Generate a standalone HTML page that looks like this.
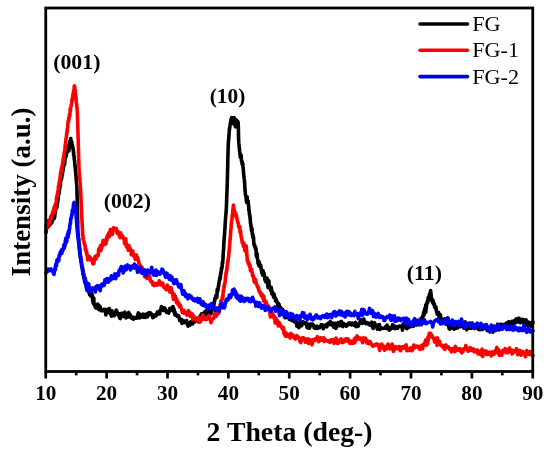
<!DOCTYPE html>
<html><head><meta charset="utf-8"><title>XRD</title>
<style>
html,body{margin:0;padding:0;background:#fff;}
body{width:550px;height:452px;overflow:hidden;}
svg{display:block;}
text{font-family:"Liberation Serif",serif;fill:#000;}
.b{font-weight:bold;}
</style></head><body>
<svg width="550" height="452" viewBox="0 0 550 452">
<rect x="0" y="0" width="550" height="452" fill="#fff"/>
<g fill="none" stroke-linejoin="round" stroke-linecap="round" stroke-width="3.6">
<polyline stroke="#000" points="46.0,232.6 46.4,227.6 46.9,226.2 47.3,223.9 47.8,226.2 48.2,220.7 48.6,226.3 49.1,222.1 49.5,223.4 49.9,222.3 50.3,224.5 50.6,218.5 51.0,220.8 51.3,220.5 51.7,223.0 52.0,219.7 52.4,220.9 52.7,218.7 53.0,219.0 53.4,218.9 53.7,215.8 54.1,218.8 54.4,217.9 54.6,216.7 54.8,216.5 54.9,214.2 55.1,213.7 55.2,211.7 55.3,211.2 55.5,211.4 55.6,209.4 55.8,209.0 55.9,208.0 56.1,207.0 56.2,206.5 56.4,206.8 56.5,205.3 56.7,206.5 56.8,207.8 57.0,206.3 57.1,204.8 57.3,203.4 57.4,202.5 57.5,203.9 57.7,201.3 57.8,199.8 57.9,199.6 58.0,200.4 58.1,198.0 58.2,197.8 58.3,196.8 58.4,195.5 58.6,194.0 58.7,193.9 58.8,193.5 58.9,193.9 59.0,193.8 59.1,193.2 59.2,191.5 59.3,191.0 59.5,188.7 59.6,190.0 59.7,188.8 59.8,187.4 59.9,187.3 60.0,185.9 60.1,186.1 60.3,185.6 60.4,185.4 60.5,181.0 60.7,180.1 60.8,180.2 60.9,180.0 61.0,180.4 61.2,179.5 61.3,176.9 61.4,178.2 61.6,178.9 61.7,177.9 61.8,177.8 61.9,175.9 62.1,175.2 62.2,174.8 62.3,174.4 62.5,173.5 62.6,172.6 62.7,171.0 62.9,171.1 63.0,170.0 63.1,170.4 63.2,169.8 63.4,168.1 63.5,166.8 63.6,165.9 63.8,166.2 63.9,165.5 64.0,164.7 64.2,164.7 64.3,163.7 64.4,164.8 64.5,163.4 64.7,164.2 64.8,162.1 64.9,161.1 65.1,158.0 65.2,158.5 65.4,158.2 65.6,155.4 65.8,156.5 65.9,157.0 66.1,154.8 66.3,155.7 66.4,155.0 66.6,151.5 66.8,153.0 66.9,150.6 67.1,152.0 67.3,149.0 67.5,151.6 67.6,149.6 67.8,148.5 68.0,147.0 68.1,149.2 68.3,150.3 68.5,145.5 68.7,150.9 69.0,150.3 69.3,146.1 69.6,141.6 69.9,143.4 70.2,141.2 70.5,140.0 70.8,138.5 71.0,141.3 71.2,142.6 71.4,141.5 71.6,143.6 71.8,141.9 71.9,145.1 72.1,144.6 72.3,144.8 72.5,145.5 72.7,147.4 72.8,147.8 73.0,148.1 73.1,148.7 73.2,149.6 73.3,150.8 73.3,151.4 73.4,152.4 73.5,152.6 73.6,151.8 73.7,154.4 73.7,155.5 73.8,154.9 73.9,155.2 74.0,155.9 74.1,156.7 74.2,157.9 74.2,158.3 74.3,159.7 74.4,159.6 74.5,160.6 74.6,160.5 74.7,162.0 74.7,162.6 74.8,164.4 74.9,164.6 75.0,166.3 75.0,164.7 75.1,165.9 75.2,167.2 75.2,168.5 75.3,167.9 75.4,169.0 75.4,169.8 75.5,171.2 75.5,170.9 75.6,171.9 75.7,171.9 75.7,172.2 75.8,173.6 75.8,174.4 75.9,175.5 76.0,175.5 76.0,175.9 76.1,177.4 76.1,178.2 76.2,179.2 76.3,179.6 76.3,180.7 76.4,180.9 76.5,182.5 76.5,183.0 76.6,183.6 76.6,183.1 76.7,184.7 76.8,185.1 76.8,185.9 76.8,186.9 76.9,187.1 76.9,188.5 76.9,188.6 76.9,190.6 76.9,189.8 77.0,190.1 77.0,190.7 77.0,191.6 77.0,192.1 77.0,194.1 77.1,193.6 77.1,193.9 77.1,195.9 77.1,195.9 77.1,196.4 77.2,198.3 77.2,199.1 77.2,199.3 77.2,200.8 77.3,200.8 77.3,202.1 77.3,202.2 77.3,203.2 77.3,203.1 77.3,203.0 77.3,205.3 77.4,204.6 77.4,205.7 77.4,206.5 77.4,207.7 77.4,208.7 77.4,209.4 77.4,210.5 77.4,211.7 77.5,211.5 77.5,211.7 77.5,212.3 77.5,213.1 77.5,213.2 77.5,215.0 77.5,215.0 77.5,215.7 77.6,216.5 77.6,216.5 77.6,217.3 77.6,218.7 77.6,219.4 77.6,219.7 77.6,221.4 77.6,220.5 77.7,221.5 77.7,222.3 77.7,222.3 77.7,225.6 77.7,225.9 77.7,225.7 77.7,227.6 77.7,227.4 77.8,228.3 77.8,228.7 77.8,230.0 77.8,229.8 77.9,231.3 77.9,231.1 78.0,231.9 78.1,233.0 78.1,233.0 78.2,233.8 78.3,235.0 78.3,235.6 78.4,237.2 78.5,237.9 78.6,237.9 78.6,238.4 78.7,238.2 78.8,239.0 78.8,239.5 78.9,241.9 79.0,242.0 79.0,243.9 79.1,243.4 79.2,244.2 79.3,245.2 79.3,245.9 79.4,245.7 79.5,246.0 79.5,246.7 79.6,247.8 79.7,248.0 79.7,249.4 79.8,249.8 79.9,250.4 80.0,251.5 80.0,251.7 80.1,253.0 80.2,253.7 80.2,255.0 80.3,256.3 80.4,255.9 80.5,257.4 80.6,258.9 80.7,256.2 80.8,257.9 81.0,258.9 81.1,260.5 81.2,262.4 81.3,261.2 81.4,260.8 81.5,263.1 81.6,263.4 81.7,266.2 81.8,265.9 81.9,266.9 82.1,265.2 82.2,268.9 82.3,267.7 82.4,268.4 82.5,268.6 82.6,268.8 82.7,269.6 82.8,270.9 82.9,270.6 83.1,271.8 83.2,270.8 83.4,274.2 83.5,276.2 83.7,275.5 83.9,277.8 84.0,275.9 84.2,277.5 84.3,277.8 84.5,279.8 84.7,278.4 84.8,279.8 85.0,281.8 85.1,279.4 85.3,278.4 85.5,279.6 85.6,280.0 85.8,280.7 86.0,284.0 86.3,287.2 86.5,285.1 86.8,286.8 87.0,286.6 87.3,287.5 87.5,288.2 87.8,289.2 88.0,291.0 88.3,288.5 88.5,291.9 88.9,291.8 89.2,291.7 89.6,294.8 89.9,294.1 90.2,294.7 90.6,295.9 90.9,295.5 91.2,294.7 91.6,293.9 91.9,293.6 92.2,297.2 92.4,295.1 92.7,301.1 93.0,301.5 93.2,303.1 93.5,302.8 93.8,298.1 94.0,304.4 94.3,305.1 94.6,305.4 94.8,304.7 95.1,306.7 95.4,304.8 95.8,308.0 96.3,305.8 96.8,307.9 97.3,304.4 97.8,304.1 98.4,309.0 98.9,309.6 99.4,308.5 99.9,306.2 100.6,308.4 101.2,310.7 101.9,310.2 102.6,310.6 103.2,310.6 103.9,309.5 104.5,310.4 105.2,309.5 105.9,314.9 106.6,311.5 107.3,312.4 107.9,309.4 108.6,311.8 109.3,308.5 110.0,313.6 110.7,312.9 111.4,316.2 112.1,310.8 112.8,312.9 113.5,313.8 114.2,315.7 114.8,313.7 115.5,314.1 116.2,310.0 116.9,311.3 117.5,313.4 118.2,315.1 118.9,313.6 119.6,318.0 120.3,318.5 120.9,316.6 121.6,313.3 122.3,313.4 123.0,314.1 123.6,316.5 124.2,315.5 124.8,312.1 125.3,315.2 125.9,317.9 126.4,314.6 127.0,313.8 127.6,317.3 128.1,313.5 128.7,312.5 129.3,314.4 129.8,314.7 130.4,314.8 131.0,317.8 131.6,318.1 132.1,318.1 132.7,317.2 133.4,319.2 134.1,317.6 134.8,318.1 135.5,318.3 136.2,317.2 136.9,318.1 137.6,316.1 138.3,312.9 139.0,313.8 139.7,318.0 140.4,315.7 141.1,317.1 141.8,314.5 142.5,316.9 143.2,314.2 143.9,317.3 144.6,314.5 145.3,317.4 146.0,316.6 146.7,314.2 147.4,316.8 148.1,313.3 148.8,312.8 149.5,314.7 150.2,312.7 150.9,313.8 151.6,314.9 152.2,314.4 152.8,317.8 153.5,317.4 154.1,316.3 154.7,315.1 155.4,314.9 156.0,316.0 156.6,314.4 157.3,312.2 157.9,314.0 158.5,312.1 159.1,311.4 159.7,314.0 160.3,310.0 160.9,309.4 161.4,306.6 162.0,307.3 162.6,310.1 163.2,308.3 163.9,310.3 164.5,307.9 165.2,308.5 165.9,310.9 166.5,312.3 167.2,311.2 167.8,312.6 168.5,313.1 169.2,311.8 169.8,308.4 170.5,309.3 171.1,310.0 171.8,307.9 172.5,309.3 172.9,306.5 173.3,308.1 173.7,311.6 174.0,308.9 174.4,312.3 174.8,314.6 175.1,312.2 175.5,315.2 175.9,314.1 176.2,315.1 176.7,315.4 177.2,316.2 177.8,315.4 178.3,316.7 178.8,316.0 179.3,318.4 179.8,320.7 180.4,319.0 180.9,320.2 181.4,319.4 181.9,323.4 182.6,320.9 183.3,320.6 183.9,322.4 184.6,321.5 185.3,322.6 186.0,322.9 186.6,320.5 187.3,322.6 188.0,326.2 188.7,325.3 189.3,324.7 190.0,325.1 190.6,321.7 191.3,323.1 191.9,323.8 192.6,323.9 193.2,320.2 193.9,321.1 194.6,322.1 195.2,320.4 195.9,319.6 196.6,320.7 197.3,319.7 198.0,318.0 198.7,321.9 199.4,319.7 200.1,318.2 200.5,315.5 201.0,319.0 201.5,313.7 202.0,314.2 202.5,315.8 203.0,317.5 203.5,316.9 203.9,312.7 204.4,314.1 204.9,311.9 205.4,315.4 205.9,310.9 206.4,312.4 206.8,313.6 207.3,311.3 207.7,313.5 208.1,309.4 208.5,310.9 209.0,311.3 209.4,309.3 209.8,311.3 210.2,309.6 210.6,305.9 211.0,313.9 211.5,308.0 211.9,306.5 212.3,303.6 212.7,305.4 213.0,303.9 213.2,305.3 213.5,304.7 213.8,306.9 214.0,303.5 214.3,302.7 214.6,301.2 214.8,299.1 215.1,298.0 215.4,298.9 215.6,297.6 215.9,295.6 216.2,295.1 216.4,296.9 216.6,297.5 216.7,295.7 216.8,297.2 217.0,293.4 217.1,293.3 217.2,289.3 217.4,290.8 217.5,290.5 217.7,290.9 217.8,291.3 217.9,288.4 218.1,288.9 218.2,287.3 218.3,287.2 218.5,285.1 218.6,286.6 218.8,283.4 218.9,284.5 219.0,282.3 219.2,282.0 219.3,280.3 219.4,280.5 219.6,280.5 219.7,279.1 219.9,276.9 220.0,279.6 220.1,278.3 220.2,278.6 220.3,277.5 220.5,275.2 220.6,273.0 220.7,273.3 220.8,274.7 220.9,272.1 221.0,273.1 221.2,271.0 221.3,271.1 221.4,268.4 221.5,270.5 221.6,268.9 221.7,269.1 221.9,267.8 222.0,267.6 222.1,266.1 222.2,265.9 222.3,262.9 222.4,262.4 222.6,263.6 222.7,262.4 222.7,261.6 222.8,261.1 222.8,260.9 222.9,259.8 222.9,259.6 223.0,258.3 223.0,257.8 223.1,257.6 223.1,256.8 223.1,255.0 223.2,255.2 223.2,253.7 223.3,253.9 223.3,251.9 223.4,251.3 223.4,250.5 223.5,249.8 223.5,250.2 223.6,249.5 223.6,249.4 223.7,248.4 223.7,246.8 223.7,246.0 223.8,245.7 223.8,244.3 223.9,243.3 223.9,242.2 224.0,242.3 224.0,240.6 224.1,241.1 224.1,240.2 224.2,240.4 224.2,239.1 224.2,238.3 224.3,238.2 224.3,236.4 224.4,236.6 224.4,235.2 224.5,235.6 224.5,235.0 224.6,234.4 224.6,232.8 224.7,232.3 224.7,231.4 224.8,230.3 224.8,229.9 224.9,229.6 224.9,229.1 225.0,227.7 225.0,226.8 225.1,227.7 225.1,226.7 225.1,224.4 225.2,224.4 225.2,223.8 225.3,223.2 225.3,222.2 225.4,221.1 225.4,220.7 225.5,219.8 225.5,219.4 225.6,218.4 225.6,217.7 225.7,217.5 225.7,217.0 225.8,215.2 225.8,215.0 225.9,214.2 225.9,214.6 226.0,213.4 226.0,213.5 226.1,212.0 226.1,211.6 226.2,210.3 226.2,210.8 226.3,209.4 226.3,208.0 226.4,207.5 226.4,205.7 226.4,206.0 226.5,205.5 226.5,204.9 226.5,204.7 226.5,203.1 226.6,202.8 226.6,201.9 226.6,201.2 226.6,199.8 226.7,200.7 226.7,199.0 226.7,198.2 226.7,196.7 226.8,196.7 226.8,196.0 226.8,195.2 226.8,194.6 226.9,194.5 226.9,193.8 226.9,193.1 226.9,193.7 227.0,191.3 227.0,190.7 227.0,189.6 227.0,189.5 227.1,188.3 227.1,186.7 227.1,186.7 227.1,186.7 227.2,186.4 227.2,184.5 227.2,184.2 227.2,183.8 227.3,182.8 227.3,182.7 227.3,181.6 227.3,180.9 227.3,179.6 227.4,180.0 227.4,178.7 227.4,178.7 227.4,177.3 227.4,177.1 227.4,176.0 227.5,175.1 227.5,174.5 227.5,174.1 227.5,173.4 227.5,173.6 227.5,171.7 227.6,171.0 227.6,171.4 227.6,170.0 227.6,168.0 227.6,168.6 227.7,168.0 227.7,166.3 227.7,166.5 227.7,166.0 227.7,165.7 227.7,165.0 227.8,163.7 227.8,163.2 227.8,162.0 227.8,161.0 227.8,160.3 227.8,160.3 227.9,158.5 227.9,159.0 227.9,157.5 227.9,157.2 227.9,156.9 227.9,156.5 228.0,154.3 228.0,154.2 228.0,153.9 228.0,153.0 228.0,153.1 228.1,151.1 228.1,151.4 228.1,150.7 228.1,149.7 228.1,149.5 228.1,147.8 228.2,148.2 228.2,146.6 228.2,146.5 228.2,145.3 228.3,144.9 228.3,144.1 228.4,142.2 228.4,142.2 228.5,141.7 228.5,141.1 228.6,140.1 228.6,140.6 228.7,139.0 228.7,138.9 228.8,137.2 228.9,136.2 228.9,136.0 229.0,135.0 229.0,135.6 229.1,133.9 229.1,133.7 229.2,132.5 229.2,131.8 229.3,131.2 229.3,130.6 229.4,130.1 229.4,129.2 229.5,128.5 229.5,128.0 229.6,128.0 229.7,128.2 229.8,127.4 230.0,125.9 230.1,124.2 230.2,123.8 230.4,123.5 230.5,122.4 230.6,122.1 230.7,121.3 230.9,121.8 231.0,119.9 231.1,119.8 231.3,119.0 231.4,118.3 231.5,118.2 231.6,117.6 231.8,118.7 231.9,117.8 232.0,120.3 232.1,122.4 232.3,119.9 232.4,120.1 232.5,121.4 232.6,123.0 232.8,122.9 232.9,122.2 233.0,122.6 233.2,123.0 233.3,122.1 233.5,123.7 233.6,121.7 233.8,120.6 233.9,120.5 234.1,118.9 234.2,117.6 234.3,119.3 234.4,120.1 234.5,119.4 234.6,120.9 234.7,121.7 234.8,122.8 234.9,122.9 235.0,124.0 235.1,124.6 235.2,126.3 235.3,124.3 235.5,126.9 235.6,125.8 235.8,123.5 235.9,123.2 236.0,122.2 236.2,119.8 236.3,120.1 236.4,120.4 236.6,120.2 236.9,122.2 237.1,121.3 237.3,121.9 237.6,121.1 237.8,122.0 238.1,122.1 238.3,125.6 238.3,125.6 238.3,126.1 238.3,127.8 238.4,128.0 238.4,127.2 238.4,129.4 238.4,129.1 238.4,130.8 238.4,130.7 238.4,131.3 238.5,133.0 238.5,132.9 238.5,134.1 238.5,135.0 238.5,135.8 238.5,136.6 238.5,137.0 238.6,137.4 238.6,139.4 238.6,138.7 238.6,140.2 238.6,139.7 238.7,141.2 238.8,141.9 238.8,141.5 238.9,143.2 239.0,144.3 239.0,145.1 239.1,145.5 239.2,146.6 239.2,147.0 239.3,147.2 239.4,148.8 239.4,148.6 239.5,150.2 239.6,150.5 239.6,150.5 239.7,151.5 239.8,152.0 239.9,152.3 239.9,153.6 240.0,153.6 240.2,157.1 240.4,156.9 240.6,154.7 240.8,156.4 241.0,156.6 241.2,155.4 241.4,160.1 241.6,161.0 241.8,162.0 241.9,160.8 242.1,164.2 242.3,162.1 242.5,163.5 242.7,164.2 242.8,163.9 242.9,164.1 242.9,165.7 243.0,166.9 243.1,167.8 243.1,167.1 243.2,168.2 243.3,169.2 243.3,170.0 243.4,171.0 243.5,171.0 243.5,172.2 243.6,173.8 243.7,174.1 243.7,174.7 243.8,175.6 243.9,175.9 243.9,176.9 244.0,177.2 244.1,177.1 244.1,177.4 244.2,178.5 244.3,179.1 244.4,179.8 244.4,181.1 244.5,181.3 244.5,182.5 244.6,183.1 244.6,183.4 244.7,183.4 244.7,185.9 244.8,186.1 244.8,185.5 244.9,187.4 244.9,188.5 245.0,189.0 245.0,190.1 245.1,190.1 245.1,191.1 245.2,191.5 245.2,191.9 245.3,192.6 245.3,193.5 245.4,194.6 245.4,194.6 245.5,194.7 245.7,195.4 245.9,196.2 246.2,198.5 246.4,200.6 246.6,202.2 246.9,200.0 247.1,196.7 247.3,200.5 247.6,202.0 247.8,202.0 248.0,202.8 248.2,201.0 248.3,204.7 248.4,204.8 248.5,204.6 248.6,205.6 248.7,206.2 248.8,208.1 248.9,209.0 248.9,210.6 249.0,210.7 249.1,210.0 249.2,210.7 249.3,213.2 249.4,214.3 249.5,213.8 249.6,215.0 249.7,214.1 249.7,214.3 249.8,215.4 249.9,216.6 250.0,217.2 250.1,218.1 250.2,218.6 250.3,220.0 250.4,221.3 250.4,221.3 250.5,223.7 250.6,222.9 250.7,223.6 250.8,224.8 250.9,225.0 251.0,226.7 251.1,225.7 251.2,228.0 251.3,227.7 251.5,230.8 251.6,228.8 251.7,229.6 251.8,230.3 252.0,228.5 252.1,232.1 252.2,233.3 252.3,234.2 252.5,233.4 252.6,233.5 252.7,235.6 252.8,236.4 253.0,237.6 253.1,235.9 253.2,236.5 253.3,237.9 253.5,237.0 253.6,239.0 253.7,241.7 253.9,243.8 254.0,243.6 254.1,245.5 254.3,244.4 254.4,244.4 254.6,244.8 254.7,246.1 254.9,246.6 255.0,247.3 255.1,247.1 255.3,248.4 255.4,248.6 255.6,247.3 255.7,249.1 255.9,249.1 256.0,248.9 256.2,253.0 256.3,255.2 256.4,256.4 256.6,255.8 256.7,253.4 256.9,256.2 257.0,256.7 257.2,253.7 257.3,257.8 257.4,258.4 257.6,258.9 257.7,259.9 257.9,260.7 258.0,263.4 258.2,262.2 258.4,263.6 258.7,265.0 259.0,265.6 259.2,261.9 259.5,266.3 259.8,264.3 260.1,265.2 260.3,264.9 260.6,265.1 260.9,266.6 261.2,269.1 261.5,270.8 261.7,272.8 262.0,271.9 262.3,271.6 262.6,275.2 262.8,270.5 263.1,270.7 263.4,274.3 263.7,274.4 264.0,273.0 264.3,276.0 264.6,276.2 264.9,279.8 265.2,278.0 265.5,281.6 265.9,281.8 266.2,281.3 266.5,281.5 266.8,282.0 267.1,278.1 267.4,283.3 267.7,283.3 268.0,287.6 268.3,283.8 268.6,286.6 268.9,280.9 269.2,286.7 269.5,286.5 269.8,286.3 270.1,287.5 270.4,288.3 270.6,290.3 270.9,289.7 271.2,287.2 271.5,289.7 271.8,293.9 272.0,291.1 272.3,292.0 272.6,292.0 272.9,294.4 273.2,295.9 273.5,295.9 273.7,297.2 274.0,294.0 274.3,295.3 274.6,297.7 274.9,297.9 275.2,297.7 275.5,300.9 275.9,299.0 276.2,300.3 276.5,300.3 276.8,302.0 277.1,302.1 277.4,302.4 277.7,304.4 278.0,306.4 278.4,303.4 278.7,305.2 279.0,304.2 279.3,305.7 279.6,308.4 279.9,307.9 280.3,307.3 280.8,307.8 281.2,308.3 281.7,309.8 282.1,311.9 282.5,309.3 283.0,310.6 283.4,311.5 283.9,311.0 284.3,316.4 284.8,314.6 285.2,317.8 285.6,312.9 286.1,317.5 286.5,314.8 287.0,315.7 287.4,315.7 288.1,316.6 288.7,316.8 289.3,319.4 289.9,317.0 290.6,318.6 291.2,319.1 291.8,320.4 292.4,319.7 293.0,320.4 293.7,321.3 294.3,321.1 294.9,322.2 295.5,320.7 296.2,321.5 296.8,326.1 297.5,324.0 298.2,323.7 298.9,327.7 299.6,325.3 300.3,324.4 301.0,323.1 301.7,325.7 302.4,321.9 303.0,321.8 303.7,323.4 304.4,322.8 305.1,322.5 305.8,322.7 306.5,325.4 307.2,327.7 307.9,323.9 308.6,325.8 309.3,328.2 310.0,326.9 310.7,324.0 311.4,324.2 312.1,324.0 312.8,324.4 313.5,325.7 314.2,327.9 314.9,326.3 315.6,328.3 316.3,326.8 317.0,326.2 317.7,328.4 318.4,327.7 319.1,327.1 319.8,327.6 320.5,326.1 321.2,324.7 321.9,326.1 322.6,324.9 323.3,328.8 324.0,325.9 324.7,325.9 325.4,326.2 326.1,324.6 326.8,326.9 327.5,325.0 328.2,323.2 328.9,323.2 329.6,324.5 330.3,321.4 331.0,324.4 331.7,323.1 332.4,325.4 333.1,323.2 333.8,327.3 334.5,326.0 335.2,323.3 335.9,328.5 336.6,325.1 337.3,323.8 338.0,322.7 338.7,324.7 339.4,325.8 340.1,322.2 340.8,321.5 341.5,321.6 342.2,326.0 342.9,326.5 343.6,323.6 344.3,325.2 345.0,324.5 345.7,324.5 346.4,326.2 347.1,325.5 347.8,324.7 348.5,323.2 349.2,324.3 349.9,323.0 350.6,324.1 351.3,324.9 352.0,323.0 352.7,324.6 353.4,324.8 354.1,325.3 354.8,323.0 355.5,322.5 356.2,326.6 356.8,325.7 357.5,325.1 358.2,326.3 358.9,323.8 359.6,322.7 360.3,323.3 361.0,319.5 361.7,320.6 362.4,323.3 363.1,321.6 363.8,319.0 364.5,321.4 365.2,323.1 365.9,323.7 366.5,323.8 367.2,322.6 367.9,323.9 368.5,324.3 369.2,323.3 369.9,325.2 370.6,325.1 371.2,325.5 371.9,322.2 372.6,327.3 373.2,328.4 373.9,324.8 374.6,322.8 375.3,326.2 375.9,325.3 376.6,325.2 377.3,329.2 378.0,324.9 378.7,327.9 379.4,324.6 380.1,329.4 380.8,328.5 381.5,327.8 382.2,328.1 382.9,328.4 383.6,328.3 384.3,328.3 385.0,328.0 385.7,326.5 386.4,328.3 387.1,325.0 387.8,328.5 388.5,328.6 389.2,330.1 389.9,327.7 390.6,328.9 391.3,328.7 392.0,326.6 392.7,324.6 393.4,326.4 394.1,326.7 394.8,328.7 395.5,326.3 396.2,328.0 396.9,328.1 397.6,328.3 398.3,326.5 399.0,326.3 399.7,326.1 400.4,326.5 401.1,326.7 401.8,325.8 402.5,330.1 403.2,323.8 403.9,323.5 404.6,324.9 405.3,325.9 406.0,327.2 406.6,328.7 407.3,328.5 408.0,325.9 408.7,322.2 409.4,327.2 410.1,324.9 410.8,325.8 411.5,324.4 412.1,326.4 412.8,324.4 413.5,326.2 414.2,325.4 414.9,323.9 415.6,324.0 416.3,324.8 416.9,322.9 417.4,324.7 417.9,323.1 418.4,323.4 418.9,324.1 419.4,324.8 419.9,323.2 420.4,321.8 420.9,322.2 421.2,318.0 421.5,322.6 421.8,317.7 422.1,320.6 422.4,317.1 422.6,317.6 422.9,315.6 423.1,316.5 423.3,315.0 423.5,313.1 423.7,315.8 423.9,312.8 424.1,311.4 424.3,310.3 424.5,313.6 424.7,308.8 424.9,310.0 425.1,307.8 425.3,312.1 425.5,308.6 425.7,304.7 425.9,312.3 426.1,305.5 426.3,308.0 426.5,305.9 426.7,304.7 426.9,302.6 427.1,302.4 427.3,303.2 427.5,300.8 427.7,301.4 427.9,302.1 428.0,299.6 428.2,297.5 428.4,299.1 428.7,297.2 429.0,296.5 429.3,295.6 429.6,294.1 429.9,295.5 430.2,294.8 430.6,290.5 431.0,294.0 431.4,297.5 431.7,300.7 431.9,301.0 432.1,299.8 432.3,301.3 432.5,299.5 432.7,302.6 432.9,300.2 433.1,300.8 433.3,301.7 433.5,304.3 433.7,303.6 433.9,304.3 434.2,305.0 434.4,303.8 434.7,307.3 434.9,306.3 435.2,307.9 435.5,306.8 435.8,309.1 436.0,307.0 436.3,310.4 436.6,312.0 436.8,311.8 437.1,314.1 437.4,311.9 437.7,312.8 438.1,313.7 438.6,312.4 439.1,317.8 439.5,316.6 440.0,315.3 440.5,315.0 440.9,318.4 441.4,320.0 441.9,320.0 442.3,320.1 442.8,319.5 443.3,319.8 443.8,322.3 444.3,322.9 444.8,318.8 445.3,322.1 445.8,320.8 446.2,321.3 446.7,324.4 447.2,321.8 447.7,317.9 448.2,324.2 448.7,326.6 449.3,329.0 450.0,325.8 450.6,328.8 451.3,322.7 452.0,325.2 452.7,327.7 453.4,327.7 454.1,329.1 454.8,328.1 455.5,326.1 456.2,328.2 456.9,326.6 457.6,327.9 458.3,323.8 459.0,325.6 459.7,324.6 460.4,326.7 461.1,325.3 461.8,325.6 462.5,324.2 463.2,326.9 463.9,328.1 464.5,327.9 465.2,321.7 465.9,324.0 466.6,329.8 467.3,326.4 468.0,326.4 468.7,328.4 469.3,326.8 470.0,325.2 470.7,325.4 471.4,328.3 472.1,323.0 472.7,327.1 473.4,324.5 474.0,324.9 474.7,328.6 475.3,325.1 476.0,327.5 476.6,325.7 477.2,324.2 477.9,326.6 478.5,329.4 479.2,328.1 479.8,329.7 480.5,329.2 481.1,329.1 481.8,328.5 482.4,329.5 483.1,326.2 483.8,328.4 484.5,325.8 485.2,328.5 485.9,328.2 486.6,327.2 487.3,330.6 488.0,330.8 488.7,329.8 489.4,327.8 490.1,328.1 490.8,329.7 491.5,328.1 492.2,328.8 492.9,332.2 493.6,326.7 494.3,326.1 495.0,326.7 495.6,328.6 496.3,327.4 497.0,327.4 497.6,327.1 498.3,329.8 499.0,329.9 499.6,328.6 500.3,324.4 501.0,326.2 501.7,324.5 502.3,325.3 503.0,324.7 503.7,326.3 504.3,327.2 505.0,326.5 505.7,324.2 506.3,323.1 506.9,323.6 507.5,322.8 508.1,324.4 508.6,321.8 509.2,321.8 509.8,322.1 510.4,324.2 511.0,325.0 511.5,322.7 512.1,321.3 512.7,323.4 513.4,322.1 514.0,320.9 514.7,323.2 515.4,321.8 516.0,319.1 516.7,322.2 517.3,321.9 518.0,318.6 518.7,318.2 519.3,321.8 520.0,322.7 520.7,322.6 521.4,319.2 522.0,320.6 522.7,322.2 523.4,319.5 524.0,323.0 524.7,324.3 525.4,325.6 526.1,319.8 526.7,323.4 527.4,326.0 528.1,321.9 528.7,322.5 529.3,324.7 530.0,322.7 530.6,326.2 531.2,325.8 531.8,322.3 532.4,324.6 533.0,322.0"/>
<polyline stroke="#f00" points="46.0,225.8 46.4,226.2 46.7,222.7 47.1,228.4 47.4,222.5 47.8,223.4 48.2,224.9 48.5,221.7 48.9,221.4 49.3,221.1 49.6,222.4 50.0,223.7 50.3,218.9 50.7,216.2 51.0,218.5 51.3,216.4 51.5,216.9 51.7,218.2 51.9,214.6 52.1,215.2 52.4,213.2 52.6,213.6 52.8,213.6 53.0,210.9 53.3,211.2 53.5,210.7 53.7,209.6 53.9,208.2 54.1,207.4 54.4,209.1 54.6,208.7 54.8,212.4 55.0,204.7 55.2,208.2 55.5,207.7 55.6,207.4 55.7,205.6 55.8,203.6 56.0,203.5 56.1,203.2 56.2,201.6 56.3,201.6 56.4,197.7 56.5,199.4 56.7,197.8 56.8,196.0 56.9,196.8 57.0,196.2 57.1,194.9 57.3,195.3 57.4,195.7 57.5,193.6 57.6,192.6 57.7,191.8 57.8,191.8 58.0,192.3 58.1,190.3 58.2,190.7 58.3,189.3 58.4,186.4 58.5,186.8 58.7,186.6 58.8,186.2 58.9,185.9 59.0,182.9 59.1,184.0 59.2,182.6 59.4,181.4 59.5,182.6 59.6,182.2 59.7,179.9 59.8,180.2 59.9,178.1 60.1,177.9 60.2,176.4 60.3,178.4 60.4,173.9 60.5,175.4 60.6,175.3 60.7,172.1 60.9,173.0 61.0,172.3 61.1,172.3 61.2,171.9 61.3,169.6 61.4,168.2 61.6,170.5 61.7,170.2 61.8,168.4 61.9,168.0 62.0,166.9 62.1,166.0 62.2,165.3 62.4,166.1 62.5,163.0 62.6,164.6 62.7,163.2 62.8,161.8 62.9,162.4 63.1,158.7 63.2,161.2 63.3,159.8 63.4,157.7 63.5,158.3 63.6,156.9 63.7,158.8 63.9,157.4 64.0,155.4 64.1,153.4 64.2,152.6 64.3,152.1 64.4,152.1 64.5,151.8 64.6,151.9 64.7,151.1 64.8,150.0 64.9,148.9 65.0,148.1 65.1,149.7 65.1,146.3 65.2,145.5 65.3,145.2 65.4,143.5 65.5,143.4 65.6,143.2 65.7,143.0 65.8,142.1 65.8,140.2 65.9,140.9 66.0,138.3 66.1,138.9 66.2,138.1 66.3,137.1 66.4,137.4 66.4,136.0 66.5,136.0 66.6,133.9 66.7,135.0 66.8,134.2 66.9,133.2 67.0,131.4 67.1,131.4 67.1,129.9 67.2,129.0 67.3,132.0 67.4,129.8 67.5,129.7 67.6,127.6 67.7,127.5 67.8,126.5 67.8,125.4 67.9,124.1 68.0,123.2 68.1,120.8 68.2,122.6 68.4,121.6 68.5,121.5 68.6,119.6 68.7,121.1 68.8,118.8 68.9,117.7 69.1,118.8 69.2,116.6 69.3,115.1 69.4,115.5 69.5,115.3 69.6,114.1 69.7,113.5 69.9,115.8 70.0,112.0 70.1,112.2 70.2,108.5 70.3,110.4 70.5,110.3 70.6,108.4 70.7,107.1 70.8,107.6 71.0,106.3 71.1,105.4 71.2,106.3 71.3,105.7 71.5,103.9 71.6,102.4 71.7,102.4 71.8,101.7 72.0,100.6 72.1,98.5 72.2,99.5 72.3,100.1 72.5,99.5 72.6,98.9 72.7,97.7 72.8,95.2 72.9,95.0 73.1,93.9 73.2,95.8 73.3,93.4 73.4,92.9 73.5,92.7 73.6,91.2 73.7,90.2 73.9,90.4 74.0,89.5 74.1,89.8 74.2,88.2 74.3,85.8 74.4,86.7 74.5,86.9 74.6,86.3 74.7,87.5 74.8,87.0 74.9,89.1 75.0,89.3 75.1,89.3 75.2,90.7 75.3,92.3 75.3,92.8 75.4,94.0 75.5,94.7 75.6,94.2 75.7,95.1 75.8,97.4 75.9,96.6 76.0,96.8 76.0,98.2 76.1,98.3 76.2,100.3 76.2,100.6 76.3,101.7 76.4,102.3 76.4,102.8 76.5,103.8 76.6,104.1 76.6,104.3 76.7,104.8 76.8,105.7 76.8,105.4 76.9,108.4 77.0,107.4 77.0,108.8 77.1,108.6 77.1,108.8 77.2,110.4 77.3,111.1 77.3,112.0 77.3,113.1 77.4,113.4 77.4,114.8 77.4,115.7 77.4,116.0 77.4,116.7 77.5,117.8 77.5,118.0 77.5,118.4 77.5,117.7 77.6,119.7 77.6,120.8 77.6,121.5 77.6,122.4 77.7,123.8 77.7,123.6 77.7,124.7 77.7,124.8 77.7,125.6 77.8,126.4 77.8,126.6 77.8,127.6 77.8,127.8 77.9,129.0 77.9,129.3 77.9,130.0 77.9,131.2 77.9,131.8 78.0,132.6 78.0,133.1 78.0,133.7 78.0,134.8 78.1,135.7 78.1,136.2 78.1,136.5 78.1,138.2 78.1,137.7 78.2,138.3 78.2,140.1 78.2,140.5 78.2,141.0 78.2,141.8 78.3,141.9 78.3,142.9 78.3,144.7 78.3,145.3 78.3,145.1 78.4,146.9 78.4,146.0 78.4,146.8 78.4,147.8 78.4,148.0 78.5,149.2 78.5,150.2 78.5,150.8 78.5,152.1 78.5,152.7 78.5,152.5 78.6,153.3 78.6,154.3 78.6,155.0 78.6,155.6 78.6,157.0 78.7,157.8 78.7,157.5 78.7,158.6 78.7,158.2 78.7,159.0 78.8,160.8 78.8,161.0 78.8,161.6 78.8,162.6 78.8,163.1 78.8,164.2 78.9,164.0 78.9,165.2 78.9,167.4 78.9,166.6 78.9,166.3 79.0,168.1 79.0,168.7 79.0,169.8 79.1,170.0 79.1,170.3 79.2,172.1 79.2,172.6 79.3,172.2 79.4,174.3 79.4,174.5 79.5,175.8 79.6,175.7 79.6,177.0 79.7,177.5 79.7,178.4 79.8,178.8 79.9,179.3 79.9,180.2 80.0,181.2 80.1,181.8 80.1,183.0 80.2,183.1 80.2,184.0 80.3,185.5 80.4,185.3 80.4,186.3 80.4,186.5 80.5,187.6 80.5,188.8 80.5,188.6 80.6,189.6 80.6,189.2 80.6,189.9 80.7,191.6 80.7,191.5 80.7,193.9 80.8,193.7 80.8,193.3 80.8,194.9 80.9,195.8 80.9,197.2 80.9,197.4 81.0,198.2 81.0,198.8 81.0,198.8 81.0,199.1 81.1,200.7 81.1,201.2 81.1,202.6 81.2,202.9 81.2,204.0 81.2,204.4 81.3,204.8 81.3,205.4 81.3,206.7 81.4,208.3 81.4,208.3 81.4,208.6 81.5,209.8 81.5,210.1 81.5,210.0 81.6,211.2 81.6,212.5 81.6,212.5 81.6,213.1 81.7,214.7 81.7,215.8 81.7,215.8 81.8,216.2 81.8,217.6 81.8,218.0 81.9,218.3 81.9,218.7 81.9,219.7 82.0,220.4 82.0,221.3 82.0,220.8 82.1,222.3 82.1,222.3 82.1,223.0 82.2,224.4 82.2,223.9 82.2,225.2 82.3,226.1 82.3,227.5 82.3,227.7 82.4,229.4 82.4,229.3 82.4,230.3 82.5,230.2 82.5,231.7 82.5,231.9 82.6,233.1 82.6,233.5 82.6,233.8 82.6,234.6 82.7,235.8 82.8,235.0 82.9,235.2 83.1,237.9 83.2,240.0 83.4,238.5 83.5,239.7 83.7,241.0 83.8,240.7 84.0,241.8 84.1,243.4 84.3,242.7 84.4,243.4 84.6,245.1 84.7,244.8 84.9,244.5 85.0,245.1 85.2,245.6 85.3,249.8 85.5,248.2 85.6,249.5 85.8,250.3 85.9,249.0 86.1,252.0 86.2,251.8 86.4,250.8 86.7,254.3 86.9,253.2 87.2,254.7 87.5,256.2 87.7,259.9 88.0,256.3 88.3,257.1 88.5,257.8 88.8,257.5 89.2,257.2 89.7,256.7 90.3,257.9 90.8,260.1 91.4,259.4 91.9,261.0 92.5,260.9 93.0,264.0 93.5,259.1 93.9,263.4 94.4,258.8 94.8,257.3 95.3,256.4 95.8,258.9 96.2,258.9 96.5,255.5 96.9,257.0 97.2,256.0 97.6,255.6 97.9,255.6 98.2,255.6 98.6,250.4 98.9,248.9 99.3,251.3 99.6,249.6 100.0,249.7 100.3,245.8 100.6,246.8 100.9,250.6 101.2,245.9 101.6,248.2 101.9,246.1 102.2,245.5 102.5,242.7 102.8,245.5 103.1,240.4 103.4,241.4 103.7,241.8 104.1,244.7 104.4,242.9 104.7,243.1 105.0,241.8 105.3,242.2 105.6,242.6 105.9,243.9 106.3,241.0 106.6,237.4 106.9,240.5 107.2,237.9 107.7,235.1 108.2,235.7 108.8,233.2 109.3,236.7 109.9,231.7 110.4,229.5 111.0,233.4 111.6,232.1 112.2,234.5 112.8,231.8 113.4,227.8 114.0,229.4 114.6,228.3 115.3,228.6 115.8,229.4 116.4,228.5 117.0,233.1 117.6,232.0 118.1,231.7 118.7,233.9 119.2,235.9 119.7,233.0 120.2,237.8 120.7,232.7 121.2,237.1 121.7,235.6 122.2,236.7 122.7,236.1 123.2,237.4 123.7,238.7 124.0,238.9 124.3,240.3 124.6,243.5 124.9,239.4 125.2,240.8 125.5,239.0 125.8,238.8 126.1,246.2 126.4,243.2 126.7,244.9 127.1,246.4 127.5,248.0 127.8,247.5 128.2,250.3 128.6,247.6 129.0,245.5 129.4,249.0 129.8,249.4 130.2,248.5 130.6,250.0 131.0,250.4 131.3,254.8 131.7,251.5 132.1,250.6 132.5,253.6 132.9,251.1 133.3,255.4 133.7,256.2 134.1,254.8 134.4,255.5 134.8,255.8 135.2,259.4 135.6,257.4 136.1,254.9 136.5,255.1 136.9,257.5 137.3,258.2 137.7,257.7 138.1,260.3 138.5,260.5 138.9,263.5 139.3,264.0 139.7,264.8 140.1,266.7 140.4,265.5 140.6,268.7 140.9,268.3 141.2,267.1 141.4,267.9 141.7,266.9 142.0,272.0 142.3,267.9 142.5,269.9 142.8,270.3 143.1,269.3 143.4,271.3 143.6,271.5 143.9,273.2 144.2,273.9 144.4,275.6 144.7,276.8 145.0,276.1 145.3,276.9 145.6,276.8 146.1,276.1 146.6,274.6 147.1,278.4 147.7,277.4 148.2,277.4 148.7,275.9 149.2,277.0 149.7,276.2 150.3,280.3 150.8,281.7 151.3,281.8 151.8,281.8 152.3,281.7 152.9,284.8 153.6,285.0 154.3,285.6 155.0,285.1 155.7,283.3 156.4,283.8 157.1,285.1 157.8,284.8 158.5,283.9 159.2,280.8 159.9,283.1 160.6,284.8 161.3,283.1 161.9,283.8 162.5,282.9 163.1,284.8 163.7,287.1 164.3,287.5 164.9,287.5 165.5,289.0 166.1,289.6 166.7,289.7 167.3,285.0 167.9,287.2 168.5,288.1 169.1,288.7 169.5,287.4 169.9,292.2 170.4,288.9 170.8,291.0 171.2,287.8 171.6,291.4 172.1,292.4 172.5,292.3 172.9,295.7 173.4,299.2 173.8,294.2 174.2,294.3 174.6,298.5 174.9,297.6 175.3,297.2 175.6,296.6 175.9,300.4 176.2,300.0 176.5,302.6 176.8,299.4 177.1,301.0 177.4,301.4 177.8,302.1 178.1,304.5 178.4,304.6 178.7,302.8 179.0,304.2 179.3,304.5 179.6,306.9 180.0,306.1 180.4,305.4 180.9,307.4 181.5,308.8 182.0,311.2 182.5,312.7 183.0,312.9 183.5,311.7 184.0,310.5 184.5,312.8 185.0,312.4 185.5,312.5 186.0,314.2 186.6,314.5 187.1,315.2 187.7,312.2 188.4,310.7 189.0,313.8 189.6,311.9 190.3,316.2 190.9,314.3 191.5,316.0 192.2,313.9 192.8,319.7 193.5,315.8 194.1,317.1 194.7,317.1 195.4,318.2 196.1,319.9 196.7,318.9 197.4,318.8 198.1,320.9 198.7,317.2 199.4,321.3 200.1,322.2 200.7,317.6 201.4,320.3 202.1,317.3 202.7,314.9 203.4,315.8 204.1,317.9 204.8,319.5 205.4,319.0 206.1,319.0 206.8,319.3 207.5,318.5 208.2,318.4 208.9,315.6 209.5,319.0 210.2,319.2 210.9,322.7 211.6,320.3 212.3,318.9 212.9,318.8 213.5,318.6 214.1,316.4 214.7,313.9 215.3,315.7 215.9,316.3 216.4,316.0 217.0,313.5 217.6,312.0 218.1,312.4 218.2,312.9 218.4,313.5 218.6,312.1 218.8,312.6 219.0,310.0 219.2,312.1 219.4,310.2 219.6,307.6 219.7,308.5 219.9,307.8 220.1,304.9 220.3,306.3 220.5,303.7 220.7,303.9 220.9,300.8 221.0,302.3 221.2,302.6 221.4,300.7 221.6,300.6 221.8,299.6 222.0,300.4 222.1,299.5 222.2,299.2 222.3,298.1 222.4,296.5 222.5,296.1 222.6,296.4 222.8,296.7 222.9,297.4 223.0,295.5 223.1,293.4 223.2,291.1 223.3,292.1 223.4,290.6 223.5,289.2 223.6,290.6 223.7,289.4 223.9,288.2 224.0,286.0 224.1,287.6 224.2,286.2 224.3,285.5 224.4,284.5 224.5,284.2 224.6,284.6 224.7,283.0 224.8,283.6 225.0,282.5 225.1,281.6 225.2,281.5 225.3,279.8 225.4,277.4 225.5,277.1 225.6,277.2 225.7,275.6 225.8,275.3 225.9,273.9 226.0,275.4 226.1,272.2 226.2,272.1 226.3,271.8 226.4,272.9 226.5,272.3 226.6,270.1 226.7,270.2 226.8,268.3 226.9,268.4 227.0,269.8 227.1,267.9 227.2,266.5 227.3,264.8 227.4,264.9 227.5,263.1 227.6,261.4 227.7,262.8 227.8,262.5 227.9,261.9 228.0,262.2 228.1,259.5 228.2,260.8 228.2,258.2 228.3,258.4 228.4,257.7 228.5,257.3 228.6,257.2 228.7,255.4 228.8,254.1 228.9,252.9 229.0,253.1 229.0,251.8 229.1,250.8 229.1,250.7 229.2,250.3 229.3,249.2 229.3,248.3 229.4,248.4 229.4,247.1 229.5,246.2 229.5,246.8 229.6,245.5 229.7,245.6 229.7,243.2 229.8,243.7 229.8,242.4 229.9,242.9 229.9,240.8 230.0,240.1 230.1,239.9 230.1,239.1 230.2,238.3 230.2,238.5 230.3,237.9 230.3,237.2 230.4,236.1 230.5,234.7 230.5,233.8 230.6,233.5 230.6,231.8 230.7,232.1 230.7,230.6 230.8,229.5 230.9,229.7 230.9,228.8 231.0,229.0 231.0,228.2 231.1,228.0 231.1,226.0 231.2,224.3 231.3,224.0 231.3,223.5 231.4,224.0 231.4,223.9 231.5,222.3 231.6,221.0 231.6,221.6 231.7,220.8 231.8,219.6 231.9,219.5 232.0,218.7 232.1,217.5 232.1,218.0 232.2,216.1 232.3,214.8 232.4,214.3 232.5,214.9 232.6,214.5 232.7,213.5 232.7,211.5 232.8,210.3 232.9,210.4 233.0,209.2 233.1,208.6 233.2,207.0 233.3,206.1 233.4,205.1 233.6,208.5 233.8,210.3 234.1,209.1 234.3,212.5 234.5,213.7 234.7,212.2 235.0,214.0 235.2,215.5 235.4,212.5 235.6,215.8 235.9,213.9 236.1,215.5 236.3,216.3 236.5,215.7 236.7,218.5 236.9,218.4 237.0,218.3 237.2,219.5 237.4,221.4 237.5,221.7 237.7,221.4 237.9,222.3 238.0,223.3 238.2,223.2 238.4,223.2 238.5,226.3 238.7,225.7 238.9,227.4 239.0,227.1 239.2,226.6 239.4,226.5 239.5,227.4 239.7,228.7 239.9,226.9 240.0,231.1 240.2,232.8 240.4,231.7 240.5,231.3 240.7,231.3 240.9,234.6 241.0,235.7 241.2,236.1 241.4,238.1 241.5,237.5 241.7,239.2 241.9,240.7 242.1,240.7 242.2,242.3 242.4,243.0 242.6,242.7 242.7,242.5 243.1,243.3 243.4,246.3 243.7,243.0 244.1,245.4 244.4,244.6 244.7,250.4 245.0,246.4 245.4,248.3 245.7,245.7 246.0,252.2 246.3,246.1 246.4,249.7 246.5,249.7 246.6,251.5 246.6,251.4 246.7,252.6 246.7,252.7 246.8,253.8 246.8,254.6 246.9,256.0 247.0,254.7 247.0,256.6 247.1,257.1 247.1,257.7 247.2,258.7 247.2,259.7 247.3,260.4 247.6,261.0 247.8,260.4 248.1,261.7 248.3,263.7 248.5,262.1 248.8,263.1 249.0,264.4 249.3,265.2 249.5,266.4 249.8,266.6 250.0,264.9 250.3,269.7 250.5,270.4 250.7,271.0 251.0,270.1 251.2,271.3 251.5,270.0 251.7,269.5 252.0,271.9 252.2,272.7 252.5,275.5 252.7,276.1 253.0,274.9 253.3,275.9 253.5,277.4 253.8,278.6 254.1,281.5 254.4,279.1 254.7,282.4 254.9,278.7 255.2,279.4 255.5,282.6 255.8,280.2 256.0,281.3 256.3,283.8 256.6,284.2 256.9,285.3 257.2,286.0 257.4,286.5 257.7,287.3 258.0,286.4 258.3,288.5 258.6,287.6 258.8,290.6 259.1,290.4 259.4,292.0 259.8,292.7 260.1,291.9 260.4,292.8 260.7,293.7 261.0,294.8 261.3,295.9 261.6,294.7 262.0,294.0 262.3,295.8 262.6,295.9 262.9,297.5 263.2,298.7 263.5,300.7 263.8,296.1 264.1,298.8 264.5,300.2 264.8,302.2 265.1,302.7 265.4,302.2 265.7,303.5 266.1,301.6 266.4,302.7 266.8,305.3 267.1,304.7 267.5,309.9 267.8,306.8 268.2,306.8 268.5,309.6 268.9,306.5 269.2,309.1 269.6,309.9 269.9,313.2 270.3,316.9 270.6,313.4 271.0,311.5 271.3,314.1 271.7,315.0 272.0,312.7 272.4,314.8 272.7,316.8 273.1,315.9 273.4,315.0 273.8,316.4 274.1,315.8 274.5,318.7 274.9,319.5 275.2,323.0 275.6,318.3 275.9,318.0 276.3,320.6 276.6,321.4 277.0,319.9 277.3,321.4 277.7,323.6 278.0,325.1 278.4,326.0 278.7,325.9 279.1,322.3 279.4,325.5 279.8,325.2 280.2,324.5 280.8,325.9 281.3,326.9 281.8,327.5 282.4,329.0 282.9,329.2 283.5,327.7 284.0,333.4 284.5,331.3 285.1,335.4 285.6,332.8 286.1,336.5 286.7,333.6 287.2,336.1 287.8,335.0 288.3,335.4 288.8,334.7 289.5,335.8 290.1,337.9 290.8,333.2 291.4,335.6 292.1,334.7 292.8,335.0 293.4,337.2 294.1,337.8 294.8,336.7 295.4,339.1 296.1,336.0 296.7,335.6 297.4,336.1 298.1,337.0 298.7,337.8 299.4,338.0 300.0,341.5 300.7,342.7 301.4,339.0 302.0,339.3 302.7,337.6 303.3,339.5 304.0,338.2 304.7,339.9 305.3,342.2 306.0,340.7 306.6,339.3 307.3,342.2 307.9,338.8 308.6,343.4 309.3,342.0 309.9,339.8 310.6,340.9 311.3,340.2 312.0,344.8 312.6,342.4 313.3,339.5 314.0,339.5 314.7,340.3 315.4,338.8 316.1,339.6 316.7,339.5 317.4,336.7 318.1,340.0 318.8,341.7 319.5,339.4 320.2,339.7 320.8,337.8 321.5,338.3 322.2,340.1 322.9,338.8 323.6,337.8 324.3,341.6 325.0,339.3 325.7,340.6 326.4,340.3 327.1,340.6 327.8,341.1 328.4,341.4 329.1,340.6 329.8,342.4 330.5,340.4 331.2,341.3 331.9,339.7 332.6,341.0 333.3,339.7 334.0,343.4 334.7,341.6 335.4,339.9 336.1,338.2 336.8,340.1 337.5,343.5 338.2,340.7 338.9,342.8 339.6,340.5 340.3,339.9 341.0,338.8 341.7,341.2 342.4,342.6 343.1,342.3 343.8,342.0 344.5,339.6 345.2,341.2 345.9,338.9 346.6,338.9 347.3,340.7 348.0,338.9 348.7,341.7 349.4,340.8 350.1,343.5 350.8,341.0 351.5,342.0 352.2,343.1 352.9,342.8 353.6,343.2 354.3,338.9 355.0,342.2 355.7,337.6 356.4,338.8 357.1,335.9 357.8,339.0 358.5,338.4 359.2,339.0 359.9,337.8 360.6,339.4 361.3,339.2 362.0,340.7 362.7,342.6 363.4,337.7 364.1,340.7 364.8,340.3 365.5,338.2 366.2,340.0 366.8,342.9 367.5,342.0 368.2,341.2 368.8,343.8 369.5,343.7 370.2,341.6 370.9,343.4 371.5,344.5 372.2,345.1 372.9,346.2 373.6,345.8 374.2,345.8 374.9,344.9 375.6,344.8 376.3,344.0 377.0,345.1 377.6,344.2 378.3,344.4 379.0,347.4 379.7,350.4 380.4,345.8 381.1,347.3 381.8,344.0 382.4,345.8 383.1,347.4 383.8,348.3 384.5,350.2 385.2,346.4 385.9,347.6 386.6,348.9 387.3,348.1 388.0,344.0 388.7,345.7 389.4,347.9 390.1,348.9 390.7,345.8 391.4,347.9 392.1,344.0 392.8,349.4 393.5,351.4 394.2,347.8 394.9,349.4 395.6,346.6 396.3,347.1 397.0,348.0 397.7,348.6 398.4,348.9 399.1,346.5 399.8,347.0 400.5,350.8 401.2,348.0 401.9,347.0 402.6,348.2 403.3,347.0 404.0,347.8 404.7,346.0 405.4,345.8 406.1,344.8 406.8,350.6 407.5,349.7 408.2,350.0 408.9,350.5 409.6,349.2 410.3,347.8 411.0,350.3 411.7,350.7 412.4,350.2 413.1,347.8 413.8,345.0 414.5,347.8 415.2,347.2 415.9,346.5 416.6,346.2 417.3,347.1 418.0,347.2 418.7,346.5 419.3,348.9 419.8,348.3 420.3,349.4 420.8,348.0 421.2,348.3 421.7,345.4 422.2,347.2 422.7,348.8 423.2,344.5 423.7,344.9 424.1,344.5 424.6,343.0 425.0,342.5 425.5,340.1 425.9,341.5 426.4,345.3 426.8,342.6 427.2,341.9 427.6,343.9 428.0,336.9 428.4,339.8 428.8,337.8 429.2,333.4 429.6,335.1 430.0,336.4 430.4,334.1 430.8,333.5 431.3,335.6 431.9,335.3 432.4,337.1 433.0,337.8 433.5,338.8 434.1,339.0 434.6,341.9 435.2,339.3 435.7,338.2 436.1,340.6 436.6,340.9 437.0,345.4 437.5,337.9 437.9,341.1 438.3,341.4 438.8,344.3 439.2,341.4 439.7,341.4 440.1,344.3 440.7,345.3 441.3,345.1 441.9,345.9 442.5,345.3 443.1,347.4 443.6,346.5 444.2,346.0 444.8,349.4 445.4,346.0 446.0,345.0 446.6,347.0 447.2,347.3 447.9,347.2 448.6,347.0 449.3,349.1 449.9,349.0 450.6,348.9 451.3,351.8 452.0,348.8 452.6,350.2 453.3,349.0 454.0,349.7 454.7,351.6 455.3,346.2 456.0,350.6 456.7,348.5 457.4,350.2 458.1,348.9 458.8,350.4 459.5,350.4 460.2,348.7 460.9,350.2 461.6,352.9 462.3,351.7 463.0,351.6 463.7,348.8 464.4,348.7 465.1,348.2 465.8,345.6 466.5,348.8 467.2,348.3 467.9,351.1 468.6,351.0 469.3,350.0 470.0,347.7 470.7,347.9 471.4,350.5 472.1,348.8 472.7,350.4 473.4,348.9 474.1,351.8 474.8,350.3 475.4,350.5 476.1,352.0 476.8,350.6 477.4,350.0 478.1,353.9 478.8,353.0 479.5,351.6 480.1,352.7 480.8,354.7 481.5,352.1 482.1,349.2 482.8,356.5 483.5,351.2 484.2,353.3 484.9,351.1 485.6,350.9 486.3,354.5 487.0,351.8 487.7,354.3 488.4,352.7 489.1,352.2 489.8,353.6 490.5,354.2 491.2,355.9 491.9,351.7 492.6,352.4 493.3,354.3 494.0,354.2 494.7,351.8 495.4,350.4 496.1,352.1 496.8,347.4 497.5,349.4 498.2,353.7 498.9,350.1 499.6,355.4 500.3,352.5 501.0,352.1 501.7,355.3 502.4,351.9 503.1,350.3 503.8,350.4 504.5,350.7 505.2,348.7 505.9,352.6 506.6,352.1 507.3,350.7 508.0,352.7 508.7,349.9 509.4,348.0 510.1,349.2 510.8,351.0 511.5,351.6 512.2,353.9 512.9,350.3 513.6,351.5 514.3,352.0 515.0,351.1 515.7,350.4 516.4,348.7 517.1,350.3 517.8,354.8 518.5,352.0 519.1,351.9 519.8,350.3 520.5,352.7 521.2,355.2 521.9,351.7 522.6,351.5 523.3,353.3 524.0,353.0 524.7,352.7 525.4,356.7 526.1,354.2 526.8,350.5 527.5,352.6 528.2,354.1 528.8,352.3 529.5,354.3 530.2,351.6 530.9,354.5 531.6,354.1 532.3,355.7 533.0,355.3"/>
<polyline stroke="#00f" points="46.0,273.0 46.7,271.5 47.4,271.5 48.1,269.0 48.8,270.8 49.5,269.8 50.2,269.4 50.9,269.0 51.6,270.9 52.3,271.3 53.0,270.5 53.6,273.9 53.9,273.5 54.1,274.4 54.4,271.5 54.7,270.6 54.9,269.8 55.2,266.9 55.4,269.6 55.7,265.1 55.9,263.9 56.2,264.4 56.4,266.0 56.7,263.1 56.9,260.1 57.2,259.6 57.5,262.2 57.7,261.7 58.0,261.4 58.2,260.9 58.5,260.5 58.8,260.5 59.2,255.0 59.5,256.2 59.8,256.2 60.1,252.9 60.4,253.4 60.7,251.4 61.0,253.7 61.3,251.9 61.6,249.8 61.9,253.4 62.2,251.5 62.6,249.0 62.9,250.4 63.2,249.6 63.5,248.4 63.7,249.0 63.9,244.7 64.1,246.9 64.3,248.1 64.5,246.9 64.7,246.4 64.9,245.4 65.1,245.2 65.3,240.5 65.5,242.8 65.7,238.3 65.9,240.3 66.1,238.3 66.3,242.6 66.5,242.1 66.7,238.9 66.9,241.0 67.1,236.4 67.3,236.7 67.5,235.9 67.7,233.5 68.0,235.3 68.2,237.1 68.4,231.4 68.6,233.3 68.8,230.5 69.0,233.1 69.1,231.1 69.2,230.9 69.3,230.4 69.4,229.4 69.6,227.3 69.7,228.8 69.8,225.2 69.9,225.5 70.0,225.0 70.1,223.2 70.2,223.6 70.4,224.0 70.5,222.5 70.6,221.2 70.7,218.8 70.8,219.5 70.9,218.8 71.0,217.9 71.2,217.3 71.3,218.4 71.4,217.4 71.5,217.1 71.6,217.0 71.7,214.8 71.9,214.3 72.0,215.6 72.1,213.4 72.3,210.3 72.4,211.3 72.5,211.7 72.7,212.0 72.8,210.3 73.0,209.1 73.1,208.0 73.3,208.0 73.4,206.2 73.5,204.1 73.7,204.3 73.8,203.9 74.0,204.9 74.1,202.4 74.2,203.3 74.4,204.1 74.5,204.5 74.6,204.1 74.7,206.6 74.8,205.7 74.9,207.5 75.0,207.4 75.1,207.2 75.2,209.3 75.3,209.8 75.4,210.0 75.5,210.8 75.7,210.5 75.8,211.0 75.9,212.2 76.0,214.4 76.0,214.5 76.1,214.8 76.2,216.1 76.2,216.5 76.3,217.2 76.3,218.6 76.4,218.8 76.4,218.8 76.5,219.8 76.5,220.9 76.6,221.6 76.6,222.8 76.7,222.6 76.7,224.0 76.8,224.5 76.8,225.0 76.9,226.2 77.0,226.9 77.0,227.1 77.1,228.8 77.1,228.3 77.2,229.5 77.2,230.1 77.3,230.9 77.3,230.8 77.4,231.7 77.5,232.4 77.6,233.9 77.7,233.5 77.7,235.0 77.8,235.7 77.9,236.0 78.0,238.9 78.0,237.6 78.1,237.2 78.2,239.6 78.3,238.9 78.4,240.5 78.4,241.5 78.5,241.3 78.6,242.2 78.7,242.8 78.8,243.6 78.8,243.2 78.9,244.2 79.0,245.8 79.1,247.5 79.1,248.1 79.2,249.0 79.3,248.6 79.4,248.2 79.5,249.7 79.5,249.8 79.6,251.6 79.7,252.0 79.8,253.2 79.8,253.9 79.9,253.7 80.0,254.0 80.1,253.4 80.3,255.6 80.4,257.1 80.5,258.3 80.6,257.7 80.8,260.6 80.9,260.0 81.0,259.5 81.1,260.3 81.2,261.7 81.4,263.2 81.5,263.8 81.6,265.0 81.7,265.9 81.9,266.9 82.0,267.1 82.1,266.2 82.2,267.5 82.4,267.4 82.5,268.0 82.6,271.4 82.7,270.1 82.9,274.0 83.0,271.7 83.2,272.6 83.4,273.8 83.5,273.2 83.7,274.5 83.8,274.6 84.0,275.2 84.1,276.3 84.3,276.5 84.4,280.1 84.6,279.0 84.7,282.2 84.9,277.9 85.0,281.2 85.2,281.9 85.3,281.1 85.5,283.9 85.7,284.0 86.1,283.4 86.4,285.5 86.7,290.2 87.0,287.3 87.4,286.9 87.7,285.0 88.0,285.2 88.6,283.6 89.1,286.5 89.7,291.9 90.2,290.2 90.8,289.4 91.4,289.5 92.1,290.1 92.7,287.9 93.4,290.0 94.1,288.6 94.7,288.4 95.4,292.0 96.0,286.5 96.6,288.3 97.2,288.5 97.8,285.7 98.4,287.0 99.0,286.4 99.6,286.5 100.2,290.8 100.8,286.6 101.4,284.5 102.0,286.3 102.6,283.8 103.2,285.4 103.8,284.1 104.3,285.3 104.9,279.8 105.5,282.6 106.1,281.2 106.6,278.8 107.2,281.8 107.8,278.6 108.4,282.3 109.0,280.3 109.5,280.3 110.1,279.0 110.7,280.0 111.3,275.8 111.8,278.9 112.4,278.0 113.0,278.4 113.5,276.8 114.1,276.8 114.7,274.1 115.2,278.1 115.8,278.6 116.3,274.2 116.9,273.8 117.4,273.6 118.0,274.7 118.5,275.4 119.1,270.3 119.7,270.7 120.2,269.0 120.8,267.9 121.3,266.5 121.9,270.1 122.5,268.3 123.2,272.9 123.8,271.1 124.4,267.1 125.0,266.2 125.7,266.8 126.3,269.8 126.9,266.2 127.6,265.0 128.3,267.1 129.0,267.5 129.7,266.1 130.4,269.9 131.1,268.1 131.8,268.4 132.5,266.1 133.1,267.3 133.7,267.3 134.4,264.1 135.0,268.2 135.6,265.2 136.3,268.3 136.9,266.4 137.5,272.2 138.1,270.0 138.8,271.2 139.4,271.6 140.0,268.6 140.6,267.6 141.3,271.1 141.9,273.2 142.6,271.9 143.3,272.9 144.0,273.4 144.7,269.9 145.4,273.0 146.1,275.9 146.8,272.1 147.5,270.0 148.2,272.7 148.9,272.0 149.6,273.0 150.3,270.5 151.0,271.4 151.7,267.2 152.4,271.8 153.1,274.2 153.8,275.0 154.5,271.8 155.2,274.9 155.9,270.0 156.5,275.4 157.2,274.1 157.9,271.8 158.6,273.1 159.3,272.7 160.0,274.1 160.7,273.0 161.4,272.8 162.0,269.0 162.7,269.7 163.4,271.2 164.1,273.6 164.8,274.3 165.5,277.2 166.2,273.0 166.9,273.4 167.4,274.4 167.9,275.2 168.4,277.8 168.9,277.4 169.4,279.4 169.9,275.5 170.4,276.7 170.9,276.3 171.4,280.1 171.9,277.1 172.4,280.8 172.9,280.1 173.4,281.8 173.9,283.6 174.5,280.0 175.0,279.8 175.5,280.6 176.0,282.9 176.5,279.9 176.9,283.6 177.4,282.4 177.8,283.5 178.3,285.4 178.7,286.9 179.2,285.5 179.6,286.1 180.1,287.4 180.5,287.6 180.9,284.5 181.4,288.6 181.8,290.1 182.3,292.3 182.7,294.2 183.2,292.4 183.6,291.8 184.1,290.8 184.5,293.1 185.0,294.8 185.4,296.4 186.0,293.8 186.7,296.2 187.3,297.4 187.9,298.9 188.6,296.2 189.2,295.1 189.8,295.4 190.4,296.4 191.1,296.4 191.7,298.6 192.3,299.0 192.9,298.5 193.6,300.2 194.2,298.6 194.8,300.8 195.4,299.3 195.9,299.5 196.5,301.0 197.1,300.0 197.6,298.4 198.2,302.1 198.8,301.0 199.4,298.7 199.9,298.8 200.5,301.7 201.1,304.0 201.6,301.8 202.2,304.9 202.8,305.3 203.3,301.9 204.0,303.9 204.7,305.0 205.4,306.4 206.1,304.6 206.8,306.3 207.4,308.4 208.1,308.5 208.8,308.9 209.5,305.1 210.2,308.0 210.9,306.5 211.6,303.7 212.3,307.4 213.0,306.4 213.6,308.6 214.3,308.6 215.0,310.7 215.7,308.9 216.4,307.8 217.0,309.7 217.7,309.0 218.4,308.4 219.1,311.1 219.7,307.9 220.3,306.5 220.7,305.5 221.1,303.5 221.6,304.4 222.0,307.7 222.5,303.6 222.9,305.2 223.4,303.7 223.8,304.6 224.2,308.0 224.7,307.1 225.1,303.6 225.6,302.9 226.0,300.0 226.4,299.5 226.9,299.1 227.3,299.0 227.7,300.3 228.2,299.6 228.6,298.3 229.0,296.6 229.4,295.0 229.8,297.3 230.2,295.9 230.7,297.5 231.1,295.8 231.6,295.0 232.1,292.8 232.6,290.1 233.1,293.9 233.6,293.4 234.1,289.1 234.6,291.6 235.1,294.1 235.6,291.6 236.1,297.1 236.6,294.6 237.0,294.2 237.6,298.6 238.2,297.7 238.8,297.1 239.4,300.3 240.0,296.1 240.6,301.2 241.3,296.4 242.0,297.8 242.7,297.8 243.3,300.0 244.0,301.5 244.7,298.5 245.4,300.7 246.0,298.8 246.7,298.4 247.4,299.3 248.0,298.4 248.7,298.7 249.3,301.4 250.0,299.8 250.7,301.7 251.3,300.6 252.0,298.3 252.6,297.3 253.3,299.6 253.9,301.5 254.6,301.9 255.2,302.0 255.9,306.1 256.5,302.4 257.1,302.4 257.8,303.8 258.4,306.6 259.0,304.4 259.7,302.8 260.3,305.9 260.9,306.9 261.6,308.2 262.2,307.0 262.8,305.6 263.5,306.1 264.1,305.7 264.7,308.4 265.3,310.4 266.0,307.1 266.7,307.7 267.4,308.2 268.1,307.7 268.8,309.0 269.4,309.4 270.1,309.4 270.8,311.5 271.5,309.6 272.2,308.6 272.9,308.1 273.5,308.7 274.2,308.4 274.9,307.0 275.5,311.2 276.2,310.7 276.8,310.0 277.5,309.9 278.2,309.4 278.8,311.0 279.5,315.6 280.1,309.5 280.8,313.4 281.4,314.2 282.1,313.0 282.7,312.1 283.4,313.9 284.0,311.4 284.7,314.4 285.4,315.9 286.0,311.8 286.7,312.0 287.4,313.7 288.0,316.2 288.7,317.9 289.4,317.7 290.1,314.9 290.7,313.5 291.4,314.9 292.1,315.9 292.7,314.3 293.4,316.5 294.1,317.5 294.8,319.1 295.5,316.4 296.2,318.6 296.9,315.5 297.6,316.3 298.3,316.3 299.0,318.3 299.7,320.6 300.4,315.6 301.1,315.7 301.8,316.3 302.5,312.6 303.2,316.1 303.9,313.1 304.6,317.8 305.3,318.2 306.0,317.5 306.7,316.0 307.3,319.8 308.0,317.5 308.7,317.2 309.4,317.9 310.1,314.3 310.8,317.6 311.5,319.3 312.2,319.2 312.9,319.8 313.6,317.4 314.3,318.6 315.0,316.6 315.7,315.8 316.4,315.0 317.1,317.2 317.8,317.9 318.5,316.6 319.2,317.3 319.9,318.0 320.6,318.6 321.3,316.6 322.0,316.1 322.7,315.7 323.4,316.3 324.1,317.1 324.8,317.4 325.5,315.0 326.2,315.6 326.9,314.0 327.5,317.8 328.2,315.5 328.9,316.7 329.6,314.8 330.3,315.3 331.0,314.4 331.7,317.7 332.4,315.3 333.1,313.9 333.8,311.9 334.5,311.6 335.2,313.2 335.9,316.1 336.6,312.5 337.3,314.1 338.0,314.5 338.7,313.2 339.4,310.9 340.1,313.6 340.8,314.8 341.5,311.3 342.2,314.2 342.9,315.5 343.6,315.7 344.3,313.2 345.0,317.0 345.7,313.9 346.4,311.7 347.1,314.6 347.8,311.4 348.5,314.8 349.2,311.7 349.9,315.2 350.6,313.2 351.3,315.6 352.0,314.9 352.7,314.3 353.4,313.9 354.1,315.7 354.8,311.4 355.5,314.3 356.2,313.8 356.9,313.6 357.6,314.2 358.3,318.8 359.0,313.5 359.7,314.3 360.4,312.9 361.1,314.8 361.8,309.3 362.5,315.3 363.2,311.8 363.9,309.6 364.6,311.6 365.3,313.2 366.0,313.7 366.7,313.1 367.4,314.2 368.1,312.6 368.8,312.1 369.5,308.4 370.2,312.1 370.9,313.3 371.6,311.8 372.2,310.3 372.9,311.5 373.5,316.5 374.2,313.4 374.8,313.9 375.5,314.2 376.1,317.2 376.8,315.2 377.5,314.6 378.1,313.5 378.8,315.6 379.4,317.5 380.1,315.8 380.7,317.4 381.4,316.3 382.0,316.3 382.7,316.6 383.4,317.7 384.1,320.5 384.8,320.4 385.5,317.8 386.2,317.9 386.9,316.7 387.6,317.6 388.3,317.1 389.0,317.5 389.7,315.0 390.4,318.4 391.0,320.3 391.7,315.8 392.4,319.9 393.1,317.3 393.8,317.2 394.5,315.9 395.2,321.5 395.9,318.8 396.6,319.2 397.3,320.7 398.0,318.1 398.7,318.4 399.4,318.3 400.1,319.9 400.8,320.5 401.5,319.8 402.2,319.4 402.9,318.5 403.6,319.4 404.3,318.4 405.0,323.1 405.7,320.9 406.4,318.2 407.1,319.7 407.8,323.9 408.4,319.4 409.1,321.5 409.8,323.7 410.5,322.2 411.2,325.6 411.9,326.1 412.6,321.7 413.3,324.0 413.9,319.9 414.6,318.7 415.3,320.3 416.0,321.2 416.7,320.7 417.4,323.7 418.1,320.1 418.8,321.0 419.5,320.5 420.2,323.9 420.9,324.4 421.5,324.7 422.2,321.2 422.9,323.0 423.6,323.0 424.3,319.8 425.0,321.2 425.7,323.6 426.4,323.6 427.1,322.5 427.8,322.6 428.5,322.2 429.2,322.3 429.9,322.3 430.6,321.4 431.3,322.7 432.0,322.8 432.7,327.0 433.4,323.1 434.1,321.9 434.8,320.8 435.5,320.5 436.3,319.7 437.0,320.4 437.7,319.9 438.4,321.6 439.1,319.6 439.8,322.1 440.5,323.9 441.2,321.7 441.9,323.7 442.6,323.3 443.3,322.0 444.0,321.5 444.7,319.2 445.4,323.7 446.1,320.3 446.8,319.6 447.5,322.4 448.1,318.6 448.8,323.7 449.5,323.7 450.2,324.6 450.9,323.2 451.6,321.3 452.3,320.1 453.0,325.2 453.7,322.1 454.4,321.9 455.1,325.1 455.8,321.5 456.5,322.1 457.2,322.2 457.9,322.6 458.6,321.5 459.3,322.4 460.0,325.3 460.7,324.5 461.4,319.0 462.1,321.0 462.8,325.0 463.5,324.7 464.1,324.7 464.8,327.2 465.5,322.9 466.2,326.5 466.9,323.7 467.6,323.4 468.3,323.2 469.0,324.4 469.7,323.0 470.4,323.2 471.1,325.8 471.8,325.5 472.5,323.5 473.2,327.7 473.9,327.6 474.6,327.6 475.3,325.0 475.9,324.9 476.6,323.7 477.3,323.2 478.0,325.2 478.7,325.7 479.4,324.6 480.1,328.6 480.8,323.3 481.5,324.6 482.2,324.9 482.9,328.0 483.6,325.7 484.3,325.6 485.0,324.8 485.7,325.2 486.4,324.6 487.1,328.4 487.8,328.1 488.5,329.2 489.2,327.0 489.9,332.1 490.6,326.7 491.3,325.0 492.0,327.8 492.7,328.5 493.4,329.4 494.1,326.7 494.8,329.0 495.5,330.6 496.2,326.4 496.9,326.1 497.6,324.2 498.3,326.8 499.0,327.8 499.7,327.7 500.4,327.8 501.1,329.1 501.8,327.5 502.5,329.1 503.2,325.9 503.9,325.9 504.6,327.2 505.3,325.7 505.9,328.0 506.6,329.6 507.3,328.2 508.0,326.4 508.7,326.4 509.4,329.6 510.1,326.4 510.7,327.8 511.4,327.4 512.1,328.2 512.8,330.1 513.5,327.6 514.2,325.7 514.9,329.6 515.5,327.2 516.2,328.6 516.9,328.1 517.6,330.0 518.3,330.6 519.0,330.7 519.7,328.0 520.4,328.3 521.1,330.1 521.8,330.4 522.5,330.7 523.2,328.3 523.9,325.2 524.6,329.5 525.3,330.4 526.0,330.6 526.7,332.3 527.4,330.8 528.1,328.7 528.8,330.8 529.5,329.5 530.2,332.0 530.9,330.7 531.6,331.2 532.3,331.0 533.0,330.9"/>
</g>
<rect x="45.75" y="8" width="487" height="363.5" fill="none" stroke="#000" stroke-width="2.8"/>
<g stroke="#000" stroke-width="2.7">
<line x1="45.75" y1="371.5" x2="45.75" y2="378.5"/>
<line x1="76.19" y1="371.5" x2="76.19" y2="375.4"/>
<line x1="106.62" y1="371.5" x2="106.62" y2="378.5"/>
<line x1="137.06" y1="371.5" x2="137.06" y2="375.4"/>
<line x1="167.50" y1="371.5" x2="167.50" y2="378.5"/>
<line x1="197.94" y1="371.5" x2="197.94" y2="375.4"/>
<line x1="228.38" y1="371.5" x2="228.38" y2="378.5"/>
<line x1="258.81" y1="371.5" x2="258.81" y2="375.4"/>
<line x1="289.25" y1="371.5" x2="289.25" y2="378.5"/>
<line x1="319.69" y1="371.5" x2="319.69" y2="375.4"/>
<line x1="350.12" y1="371.5" x2="350.12" y2="378.5"/>
<line x1="380.56" y1="371.5" x2="380.56" y2="375.4"/>
<line x1="411.00" y1="371.5" x2="411.00" y2="378.5"/>
<line x1="441.44" y1="371.5" x2="441.44" y2="375.4"/>
<line x1="471.88" y1="371.5" x2="471.88" y2="378.5"/>
<line x1="502.31" y1="371.5" x2="502.31" y2="375.4"/>
<line x1="532.75" y1="371.5" x2="532.75" y2="378.5"/>
</g>
<g class="b" font-size="20">
<text x="45.8" y="400.3" text-anchor="middle" textLength="21.2" lengthAdjust="spacingAndGlyphs">10</text>
<text x="106.6" y="400.3" text-anchor="middle" textLength="21.2" lengthAdjust="spacingAndGlyphs">20</text>
<text x="167.5" y="400.3" text-anchor="middle" textLength="21.2" lengthAdjust="spacingAndGlyphs">30</text>
<text x="228.4" y="400.3" text-anchor="middle" textLength="21.2" lengthAdjust="spacingAndGlyphs">40</text>
<text x="289.2" y="400.3" text-anchor="middle" textLength="21.2" lengthAdjust="spacingAndGlyphs">50</text>
<text x="350.1" y="400.3" text-anchor="middle" textLength="21.2" lengthAdjust="spacingAndGlyphs">60</text>
<text x="411.0" y="400.3" text-anchor="middle" textLength="21.2" lengthAdjust="spacingAndGlyphs">70</text>
<text x="471.9" y="400.3" text-anchor="middle" textLength="21.2" lengthAdjust="spacingAndGlyphs">80</text>
<text x="532.8" y="400.3" text-anchor="middle" textLength="21.2" lengthAdjust="spacingAndGlyphs">90</text>
</g>
<g class="b" font-size="20.5">
<text x="53.2" y="69" textLength="47.2" lengthAdjust="spacingAndGlyphs">(001)</text>
<text x="103.7" y="208.2" textLength="47.2" lengthAdjust="spacingAndGlyphs">(002)</text>
<text x="209.7" y="102.7" textLength="35.6" lengthAdjust="spacingAndGlyphs">(10)</text>
<text x="406.8" y="279.5" textLength="35.2" lengthAdjust="spacingAndGlyphs">(11)</text>
</g>
<text class="b" font-size="27" x="289.6" y="441" text-anchor="middle" textLength="166" lengthAdjust="spacingAndGlyphs">2 Theta (deg-)</text>
<text class="b" font-size="27" transform="translate(29.5,192) rotate(-90)" text-anchor="middle">Intensity (a.u.)</text>
<g stroke-width="3.6" stroke-linecap="round">
<line x1="420" y1="24" x2="467.5" y2="24" stroke="#000"/>
<line x1="420" y1="50.2" x2="467.5" y2="50.2" stroke="#f00"/>
<line x1="420" y1="76.6" x2="467.5" y2="76.6" stroke="#0000e0"/>
</g>
<g font-size="21">
<text x="472.2" y="30.6" textLength="28.4" lengthAdjust="spacingAndGlyphs">FG</text>
<text x="472.2" y="57.1" textLength="46.8" lengthAdjust="spacingAndGlyphs">FG-1</text>
<text x="472.2" y="83.8" textLength="46.8" lengthAdjust="spacingAndGlyphs">FG-2</text>
</g>
</svg>
</body></html>
